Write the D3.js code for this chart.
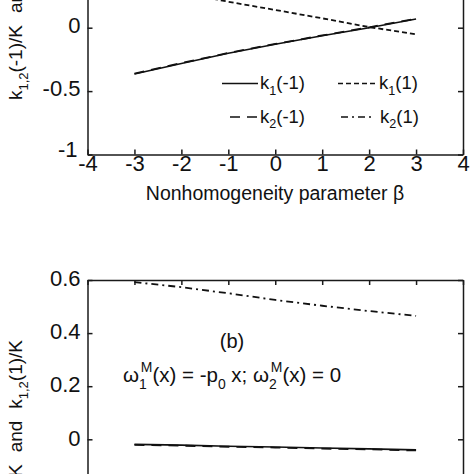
<!DOCTYPE html>
<html>
<head>
<meta charset="utf-8">
<script src="https://cdn.jsdelivr.net/npm/d3@7"></script>
<style>
  body { margin: 0; background: #fff; }
  svg { display: block; font-family: "Liberation Sans", Arial, sans-serif; }
  .axis path, .axis line { stroke: #1a1a1a; stroke-width: 1.5; }
  .axis text { fill: #111; font-size: 22px; }
</style>
</head>
<body>
<div id="vis"></div>
<script>
// Frame
const FRAME_WIDTH = 474;
const FRAME_HEIGHT = 474;

// Data
const BETA = [-3, -2, -1, 0, 1, 2, 3];
const X_TICKS = [-4, -3, -2, -1, 0, 1, 2, 3, 4];
const TOP_Y_TICKS = [-1, -0.5, 0, 0.5];
const BOT_Y_TICKS = [-0.2, 0, 0.2, 0.4, 0.6];

// panel (a): top
const TOP_K1_M1 = [-0.365, -0.282, -0.202, -0.131, -0.064, 0.0, 0.068];
const TOP_K2_M1 = [-0.362, -0.279, -0.199, -0.128, -0.061, 0.003, 0.071];
const TOP_K1_P1 = [0.35, 0.275, 0.205, 0.14, 0.074, 0.005, -0.052];

// panel (b): bottom
const BOT_K1_M1 = [-0.019, -0.022, -0.026, -0.029, -0.033, -0.036, -0.040];
const BOT_K2_M1 = [-0.021, -0.024, -0.028, -0.031, -0.035, -0.038, -0.042];
const BOT_K2_P1 = [0.592, 0.573, 0.55, 0.525, 0.503, 0.483, 0.465];

// line styles
const SOLID = null;
const SHORT_DASH = "5,3";
const LONG_DASH = "10,7";
const DASH_DOT = "7,4,2,4";

const FRAME = d3.select("#vis")
    .append("svg")
    .attr("width", FRAME_WIDTH)
    .attr("height", FRAME_HEIGHT);

// x scale shared by both panels
const X_SCALE = d3.scaleLinear()
    .domain([-4, 4])
    .range([87.5, 463]);

// top panel y: 0 at 27.7px, -1 at 154.5px
const Y_TOP = d3.scaleLinear()
    .domain([-1, 0.5])
    .range([154.5, -35.7]);

// bottom panel y: 0.6 at 280px, 0 at 439.3px
const Y_BOT = d3.scaleLinear()
    .domain([-0.4, 0.6])
    .range([545.5, 280]);

// plain hyphen for negatives, like the scan
const fmt = (d) => String(d);

// draw one series
function drawLine(yScale, values, dash, width) {
    const line = d3.line()
        .x((d, i) => X_SCALE(BETA[i]))
        .y((d) => yScale(d));
    FRAME.append("path")
        .datum(values)
        .attr("d", line)
        .attr("fill", "none")
        .attr("stroke", "#111")
        .attr("stroke-width", width)
        .attr("stroke-dasharray", dash);
}

// text with sub / superscripts: parts = [[text, "sub"|"sup"|null, dx], ...]
function richText(g, parts, size) {
    const t = g.append("text").attr("font-size", size).attr("fill", "#111");
    let shift = 0;
    parts.forEach(([s, kind, dx]) => {
        let target = 0;
        if (kind === "sub") target = size * 0.32;
        if (kind === "sup") target = -size * 0.5;
        const ts = t.append("tspan")
            .attr("dy", target - shift)
            .attr("font-size", kind ? size * 0.68 : size)
            .text(s);
        if (dx) ts.attr("dx", dx);
        shift = target;
    });
    return t;
}

// ---------- top panel ----------
FRAME.append("g").attr("class", "axis")
    .attr("transform", "translate(0," + Y_TOP(-1) + ")")
    .call(d3.axisBottom(X_SCALE).tickValues(X_TICKS).tickSizeInner(-5).tickSizeOuter(0).tickPadding(1)
        .tickFormat(fmt));

FRAME.append("g").attr("class", "axis")
    .attr("transform", "translate(" + X_SCALE(-4) + ",0)")
    .call(d3.axisLeft(Y_TOP).tickValues(TOP_Y_TICKS).tickSizeInner(-5).tickSizeOuter(0).tickPadding(7)
        .tickFormat(fmt))
    .selectAll("text")
    .attr("dy", (d) => d === -1 ? "0.1em" : "0.22em")
    .attr("dx", (d) => d === -1 ? -3 : 0);

FRAME.append("g").attr("class", "axis")
    .attr("transform", "translate(" + X_SCALE(4) + ",0)")
    .call(d3.axisRight(Y_TOP).tickValues(TOP_Y_TICKS).tickSizeInner(-5).tickSizeOuter(0).tickFormat(""));

drawLine(Y_TOP, TOP_K1_M1, SOLID, 1.6);
drawLine(Y_TOP, TOP_K2_M1, LONG_DASH, 1.8);
drawLine(Y_TOP, TOP_K1_P1, SHORT_DASH, 1.8);

// x label
FRAME.append("text")
    .attr("x", 275)
    .attr("y", 200)
    .attr("text-anchor", "middle")
    .attr("font-size", 19.5)
    .attr("fill", "#111")
    .text("Nonhomogeneity parameter  β");

// y label (top panel), runs upward from y=100
const yLabTop = FRAME.append("g").attr("transform", "translate(21.5,100) rotate(-90)");
richText(yLabTop, [["k"], ["1,2", "sub"], ["(-1)/K"], ["and", null, 12], ["k", null, 12], ["1,2", "sub"], ["(1)/K"]], 19)
    .attr("text-anchor", "start");

// legend
const LEGEND = [
    { label: "1", arg: "(-1)", dash: SOLID, x: 222, y: 83.5, len: 36 },
    { label: "1", arg: "(1)", dash: SHORT_DASH, x: 338, y: 83.5, len: 39 },
    { label: "2", arg: "(-1)", dash: LONG_DASH, x: 230, y: 117, len: 28 },
    { label: "2", arg: "(1)", dash: DASH_DOT, x: 341, y: 117, len: 30 }
];
LEGEND.forEach((d) => {
    FRAME.append("line")
        .attr("x1", d.x).attr("x2", d.x + d.len)
        .attr("y1", d.y).attr("y2", d.y)
        .attr("stroke", "#111")
        .attr("stroke-width", 1.6)
        .attr("stroke-dasharray", d.dash);
    const g = FRAME.append("g").attr("transform", "translate(" + (d.x + d.len + (d.dash === DASH_DOT ? 9 : 2)) + "," + (d.y + 5.5) + ")");
    richText(g, [["k"], [d.label, "sub"], [d.arg]], 18.5);
});

// ---------- bottom panel ----------
FRAME.append("g").attr("class", "axis")
    .attr("transform", "translate(0," + Y_BOT(0.6) + ")")
    .call(d3.axisTop(X_SCALE).tickValues(X_TICKS).tickSizeInner(-5).tickSizeOuter(0).tickFormat(""));

FRAME.append("g").attr("class", "axis")
    .attr("transform", "translate(" + X_SCALE(-4) + ",0)")
    .call(d3.axisLeft(Y_BOT).tickValues(BOT_Y_TICKS).tickSizeInner(-5).tickSizeOuter(0).tickPadding(7)
        .tickFormat(fmt))
    .selectAll("text").attr("dy", "0.26em");

FRAME.append("g").attr("class", "axis")
    .attr("transform", "translate(" + X_SCALE(4) + ",0)")
    .call(d3.axisRight(Y_BOT).tickValues(BOT_Y_TICKS).tickSizeInner(-5).tickSizeOuter(0).tickFormat(""));

drawLine(Y_BOT, BOT_K2_P1, DASH_DOT, 1.8);
drawLine(Y_BOT, BOT_K1_M1, SOLID, 1.6);
drawLine(Y_BOT, BOT_K2_M1, LONG_DASH, 1.8);

// panel tag and formula
FRAME.append("text")
    .attr("x", 232)
    .attr("y", 348)
    .attr("text-anchor", "middle")
    .attr("font-size", 20)
    .attr("fill", "#111")
    .text("(b)");

const formula = FRAME.append("g").attr("transform", "translate(123,382)");
richText(formula, [["ω"], ["1", "sub"], ["M", "sup", -6], ["(x) = -p"], ["0", "sub"], [" x; ω"], ["2", "sub"], ["M", "sup", -6], ["(x) = 0"]], 20.5);

// y label (bottom panel), ends at y=340
const yLabBot = FRAME.append("g").attr("transform", "translate(21.5,340) rotate(-90)");
richText(yLabBot, [["k"], ["1,2", "sub"], ["(-1)/K"], ["and", null, 12], ["k", null, 12], ["1,2", "sub"], ["(1)/K"]], 19)
    .attr("text-anchor", "end");
</script>
</body>
</html>
